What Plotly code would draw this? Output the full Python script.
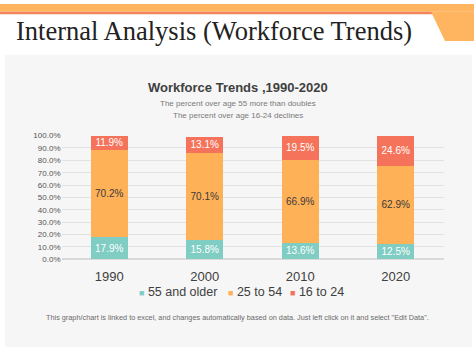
import plotly.graph_objects as go

years = ["1990", "2000", "2010", "2020"]
older55 = [17.9, 15.8, 13.6, 12.5]
mid25_54 = [70.2, 70.1, 66.9, 62.9]
young16_24 = [11.9, 13.1, 19.5, 24.6]
series_names = ["55 and older", "25 to 54", "16 to 24"]
ytick_vals = [0, 10, 20, 30, 40, 50, 60, 70, 80, 90, 100]
ytick_text = [f"{v:.1f}%" for v in ytick_vals]

W, H = 474, 355
def py(pix):
    return 1 - pix / H
def px(pix):
    return pix / W

colors = ["#7fcdc3", "#ffb157", "#f5735a"]
text_colors = ["#ffffff", "#3a3a3a", "#ffffff"]

fig = go.Figure()
for name, vals, col, tcol in zip(series_names, [older55, mid25_54, young16_24], colors, text_colors):
    fig.add_trace(go.Bar(
        x=years, y=vals, name=name, marker=dict(color=col, line=dict(width=0)),
        text=[f"{v:.1f}%" for v in vals], textposition="inside",
        insidetextanchor="middle", textangle=0,
        textfont=dict(color=tcol, size=10, family="Arial, Liberation Sans"),
        width=0.39, showlegend=False,
    ))

shapes = [
    dict(type="rect", xref="paper", yref="paper", x0=px(5), x1=px(472), y0=py(352), y1=py(52),
         fillcolor="#f6f6f6", line=dict(width=0), layer="below"),
    dict(type="rect", xref="paper", yref="paper", x0=0, x1=1, y0=py(8), y1=1,
         fillcolor="#ffb55f", line=dict(width=0), layer="below"),
    dict(type="rect", xref="paper", yref="paper", x0=0, x1=px(433), y0=py(10.5), y1=py(8),
         fillcolor="#f0845a", line=dict(width=0), layer="below"),
    dict(type="path", xref="paper", yref="paper",
         path=f"M {px(431)} {py(8)} L {px(445)} {py(38)} L 1 {py(38)} L 1 {py(8)} Z",
         fillcolor="#ffb55f", line=dict(width=0), layer="below"),
]

F = "Arial, Liberation Sans"
annotations = [
    dict(text="Internal Analysis (Workforce Trends)", x=px(14), y=py(28), xref="paper", yref="paper",
         xanchor="left", yanchor="middle", showarrow=False,
         font=dict(family="Liberation Serif, serif", size=26.5, color="#222222")),
    dict(text="<b>Workforce Trends ,1990-2020</b>", x=px(238), y=py(86), xref="paper", yref="paper",
         xanchor="center", yanchor="middle", showarrow=False,
         font=dict(family=F, size=13, color="#404040")),
    dict(text="The percent over age 55 more than doubles", x=px(238), y=py(102), xref="paper", yref="paper",
         xanchor="center", yanchor="middle", showarrow=False,
         font=dict(family=F, size=8, color="#7a7a7a")),
    dict(text="The percent over age 16-24 declines", x=px(238), y=py(114), xref="paper", yref="paper",
         xanchor="center", yanchor="middle", showarrow=False,
         font=dict(family=F, size=8, color="#7a7a7a")),
    dict(text='This graph/chart is linked to excel, and changes automatically based on data. Just left click on it and select "Edit Data".',
         x=px(237), y=py(322), xref="paper", yref="paper",
         xanchor="center", yanchor="middle", showarrow=False,
         font=dict(family=F, size=7.3, color="#6a6a6a")),
]
legend_x = [137, 226, 288]
for name, col, lx in zip(series_names, colors, legend_x):
    annotations.append(dict(
        text=f'<span style="color:{col};font-size:9px">■</span> {name}',
        x=px(lx), y=py(296), xref="paper", yref="paper", xanchor="left", yanchor="middle",
        showarrow=False, font=dict(family=F, size=12.5, color="#404040")))

fig.update_layout(
    width=W, height=H, barmode="stack",
    margin=dict(l=0, r=0, t=0, b=0),
    paper_bgcolor="#ffffff", plot_bgcolor="rgba(0,0,0,0)",
    shapes=shapes, annotations=annotations,
    uniformtext=dict(mode="show", minsize=10),
    xaxis=dict(domain=[px(61.5), px(443.5)], showgrid=False, showline=False, zeroline=False,
               tickfont=dict(family=F, size=13, color="#404040"), ticks="",
               ticklabelstandoff=8),
    yaxis=dict(domain=[py(262), py(135)], range=[0, 100], tickvals=ytick_vals, ticktext=ytick_text,
               showgrid=True, gridcolor="#e2e2e2", gridwidth=1, zeroline=True, zerolinecolor="#d9d9d9",
               showline=False, ticks="",
               tickfont=dict(family=F, size=8, color="#555555")),
)
fig.write_html("out.html", config={"displayModeBar": False},
               post_script="document.body.style.margin='0';document.body.style.overflow='hidden';")
